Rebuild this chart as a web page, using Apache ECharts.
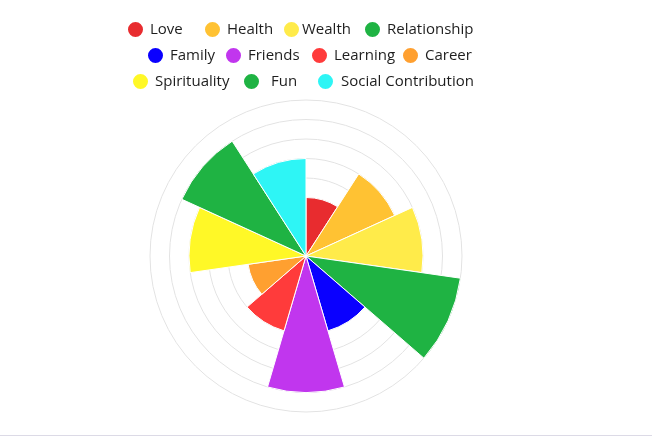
<!DOCTYPE html>
<html>
<head>
<meta charset="utf-8">
<script src="https://cdn.jsdelivr.net/npm/echarts@6/dist/echarts.min.js"></script>
<style>
  html, body { margin: 0; padding: 0; background: #fff; }
  #chart { width: 652px; height: 435px; border-bottom: 1px solid #dcdae6; }
</style>
</head>
<body>
<div id="chart"></div>
<script>
// life areas and their scores
const categories = ['Love', 'Health', 'Wealth', 'Relationship', 'Family', 'Friends',
  'Learning', 'Career', 'Spirituality', 'Fun', 'Social Contribution']
const scores = [3, 5, 6, 8, 4, 7, 4, 3, 6, 7, 5]
const colors = ['#e82c2f', '#ffc233', '#ffeb4a', '#1fb343', '#0a00ff', '#c136ee',
  '#ff3b3b', '#ffa030', '#fff827', '#1fb343', '#2ef5f5']
const radiusMax = 8

// legend item placement (left edge of the dot, row) - copied from the original layout
const legendLeft = [126, 203, 282, 363, 146, 224, 310, 401, 131, 242, 316]
const legendRow = [0, 0, 0, 0, 1, 1, 1, 1, 2, 2, 2]
const legendTextGap = [6, 6, 2, 6, 6, 6, 6, 6, 6, 11, 7]
const rowTops = [15, 41, 67]

const chart = echarts.init(document.getElementById('chart'))

// one series per category so each gets its own legend entry
const series = categories.map((name, i) => ({
  name: name,
  type: 'bar',
  coordinateSystem: 'polar',
  stack: 'all',
  barCategoryGap: '0%',
  itemStyle: {
    color: colors[i],
    borderColor: '#fff',
    borderWidth: 1
  },
  data: scores.map((v, j) => (j === i ? v : '-'))
}))

const legends = categories.map((name, i) => ({
  data: [name],
  top: rowTops[legendRow[i]],
  left: legendLeft[i] - 5,
  icon: 'circle',
  itemWidth: 17,
  itemHeight: 17,
  selectedMode: false,
  textStyle: {
    fontFamily: 'Open Sans',
    fontSize: 15,
    color: '#1e1e1e',
    padding: [0, 0, 0, legendTextGap[i] - 5]
  }
}))

const option = {
  animation: false,
  color: colors,
  legend: legends,
  polar: {
    center: [306, 256],
    radius: 156
  },
  angleAxis: {
    type: 'category',
    data: categories,
    startAngle: 90,
    clockwise: true,
    axisLine: { show: false },
    axisTick: { show: false },
    axisLabel: { show: false },
    splitLine: { show: false }
  },
  radiusAxis: {
    type: 'value',
    min: 0,
    max: radiusMax,
    interval: 1,
    axisLine: { show: false },
    axisTick: { show: false },
    axisLabel: { show: false },
    splitLine: {
      show: true,
      lineStyle: { color: '#e3e3e3', width: 1 }
    }
  },
  series: series
}

chart.setOption(option)
</script>
</body>
</html>
